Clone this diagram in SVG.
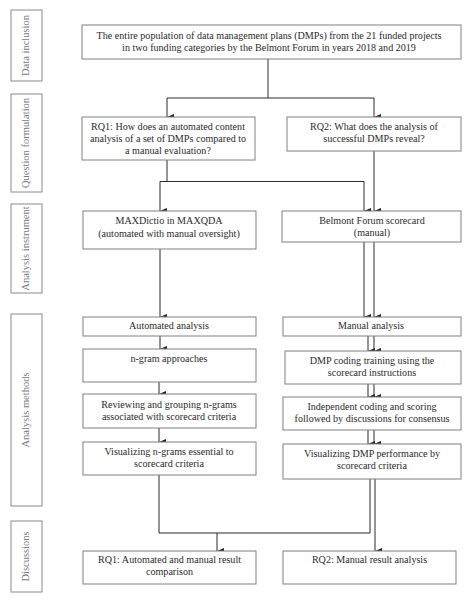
<svg xmlns="http://www.w3.org/2000/svg" width="474" height="601" viewBox="0 0 474 601">
<defs>
<marker id="ah" viewBox="0 0 6 7" refX="3" refY="7" markerWidth="6" markerHeight="7" markerUnits="userSpaceOnUse" orient="auto-start-reverse">
<path d="M0,0 L6,0 L3,7 Z" fill="#222"/>
</marker>
<style>
.b{fill:#fff;stroke:#808080;stroke-width:1}
.s{fill:#fff;stroke:#8a8a8a;stroke-width:1}
.t{font-family:"Liberation Serif","Times New Roman",serif;font-size:10.1px;fill:#2a2a2a;text-anchor:middle}
.st{font-family:"Liberation Serif","Times New Roman",serif;font-size:10.5px;fill:#7a7a7a;text-anchor:middle}
.c{fill:none;stroke:#2a2a2a;stroke-width:1}
.a{fill:none;stroke:#2a2a2a;stroke-width:1;marker-end:url(#ah)}
</style>
</defs>
<rect width="474" height="601" fill="#fff"/>

<g id="side-labels">
<g id="lbl-data-inclusion"><rect class="s" x="11" y="10" width="31" height="71"/><text class="st" transform="translate(29,45.5) rotate(-90)">Data inclusion</text></g>
<g id="lbl-question"><rect class="s" x="11" y="94" width="31" height="98"/><text class="st" transform="translate(29,143) rotate(-90)">Question formulation</text></g>
<g id="lbl-instrument"><rect class="s" x="11" y="204" width="31" height="89"/><text class="st" transform="translate(29,248.5) rotate(-90)">Analysis instrument</text></g>
<g id="lbl-methods"><rect class="s" x="11" y="314" width="31" height="192"/><text class="st" transform="translate(29,410) rotate(-90)">Analysis methods</text></g>
<g id="lbl-discussions"><rect class="s" x="11" y="521" width="31" height="71"/><text class="st" transform="translate(29,556.5) rotate(-90)">Discussions</text></g>
</g>

<g id="connectors">
<path class="c" d="M268,59 V98 M167,98 H374"/>
<path class="a" d="M167,98 V117"/>
<path class="a" d="M374,98 V117"/>
<path class="c" d="M167,160 V181.5 M160,181.5 H364"/>
<path class="a" d="M160,181.5 V211"/>
<path class="a" d="M364,181.5 V211"/>
<path class="a" d="M374,151 V211"/>
<path class="a" d="M160,249 V317"/>
<path class="a" d="M364,242 V317"/>
<path class="a" d="M374,242 V317"/>
<path class="a" d="M160,336 V349"/>
<path class="a" d="M159,382 V394"/>
<path class="a" d="M159,428 V442"/>
<path class="a" d="M368,336 V351"/>
<path class="a" d="M374,336 V351"/>
<path class="a" d="M368,384 V397"/>
<path class="a" d="M374,384 V397"/>
<path class="a" d="M368,430 V444"/>
<path class="a" d="M374,430 V444"/>
<path class="c" d="M159,475 V533 H370 V479"/>
<path class="a" d="M217,533 V551"/>
<path class="a" d="M375,479 V551"/>
</g>

<g id="n-population"><rect class="b" x="82" y="25" width="379" height="34"/>
<text class="t" x="269" y="39">The entire population of data management plans (DMPs) from the 21 funded projects</text>
<text class="t" x="269" y="51">in two funding categories by the Belmont Forum in years 2018 and 2019</text></g>

<g id="n-rq1"><rect class="b" x="82" y="117" width="173" height="43"/>
<text class="t" x="168" y="130">RQ1: How does an automated content</text>
<text class="t" x="168" y="142">analysis of a set of DMPs compared to</text>
<text class="t" x="168" y="154">a manual evaluation?</text></g>

<g id="n-rq2"><rect class="b" x="287" y="117" width="174" height="34"/>
<text class="t" x="374" y="130">RQ2: What does the analysis of</text>
<text class="t" x="374" y="142">successful DMPs reveal?</text></g>

<g id="n-maxdictio"><rect class="b" x="83" y="211" width="173" height="38"/>
<text class="t" x="169" y="224">MAXDictio in MAXQDA</text>
<text class="t" x="169" y="236.5">(automated with manual oversight)</text></g>

<g id="n-belmont"><rect class="b" x="282" y="211" width="179" height="31"/>
<text class="t" x="372" y="224">Belmont Forum scorecard</text>
<text class="t" x="372" y="236">(manual)</text></g>

<g id="n-auto"><rect class="b" x="83" y="317" width="173" height="19"/>
<text class="t" x="169" y="329">Automated analysis</text></g>

<g id="n-manual"><rect class="b" x="283" y="317" width="178" height="19"/>
<text class="t" x="371" y="329">Manual analysis</text></g>

<g id="n-ngram"><rect class="b" x="83" y="349" width="173" height="33"/>
<text class="t" x="169" y="362">n-gram approaches</text></g>

<g id="n-training"><rect class="b" x="285" y="351" width="176" height="33"/>
<text class="t" x="372" y="363.5">DMP coding training using the</text>
<text class="t" x="372" y="375.5">scorecard instructions</text></g>

<g id="n-reviewing"><rect class="b" x="83" y="394" width="173" height="34"/>
<text class="t" x="169" y="407.5">Reviewing and grouping n-grams</text>
<text class="t" x="169" y="419.5">associated with scorecard criteria</text></g>

<g id="n-independent"><rect class="b" x="283" y="397" width="178" height="33"/>
<text class="t" x="372" y="410">Independent coding and scoring</text>
<text class="t" x="372" y="422">followed by discussions for consensus</text></g>

<g id="n-vis-ngrams"><rect class="b" x="83" y="442" width="173" height="33"/>
<text class="t" x="169" y="454.5">Visualizing n-grams essential to</text>
<text class="t" x="169" y="466.5">scorecard criteria</text></g>

<g id="n-vis-dmp"><rect class="b" x="283" y="444" width="178" height="35"/>
<text class="t" x="372" y="457">Visualizing DMP performance by</text>
<text class="t" x="372" y="469">scorecard criteria</text></g>

<g id="n-rq1-result"><rect class="b" x="83" y="551" width="173" height="33"/>
<text class="t" x="169.5" y="563">RQ1: Automated and manual result</text>
<text class="t" x="169.5" y="575">comparison</text></g>

<g id="n-rq2-result"><rect class="b" x="283" y="551" width="173" height="33"/>
<text class="t" x="369.5" y="563">RQ2: Manual result analysis</text></g>
</svg>
